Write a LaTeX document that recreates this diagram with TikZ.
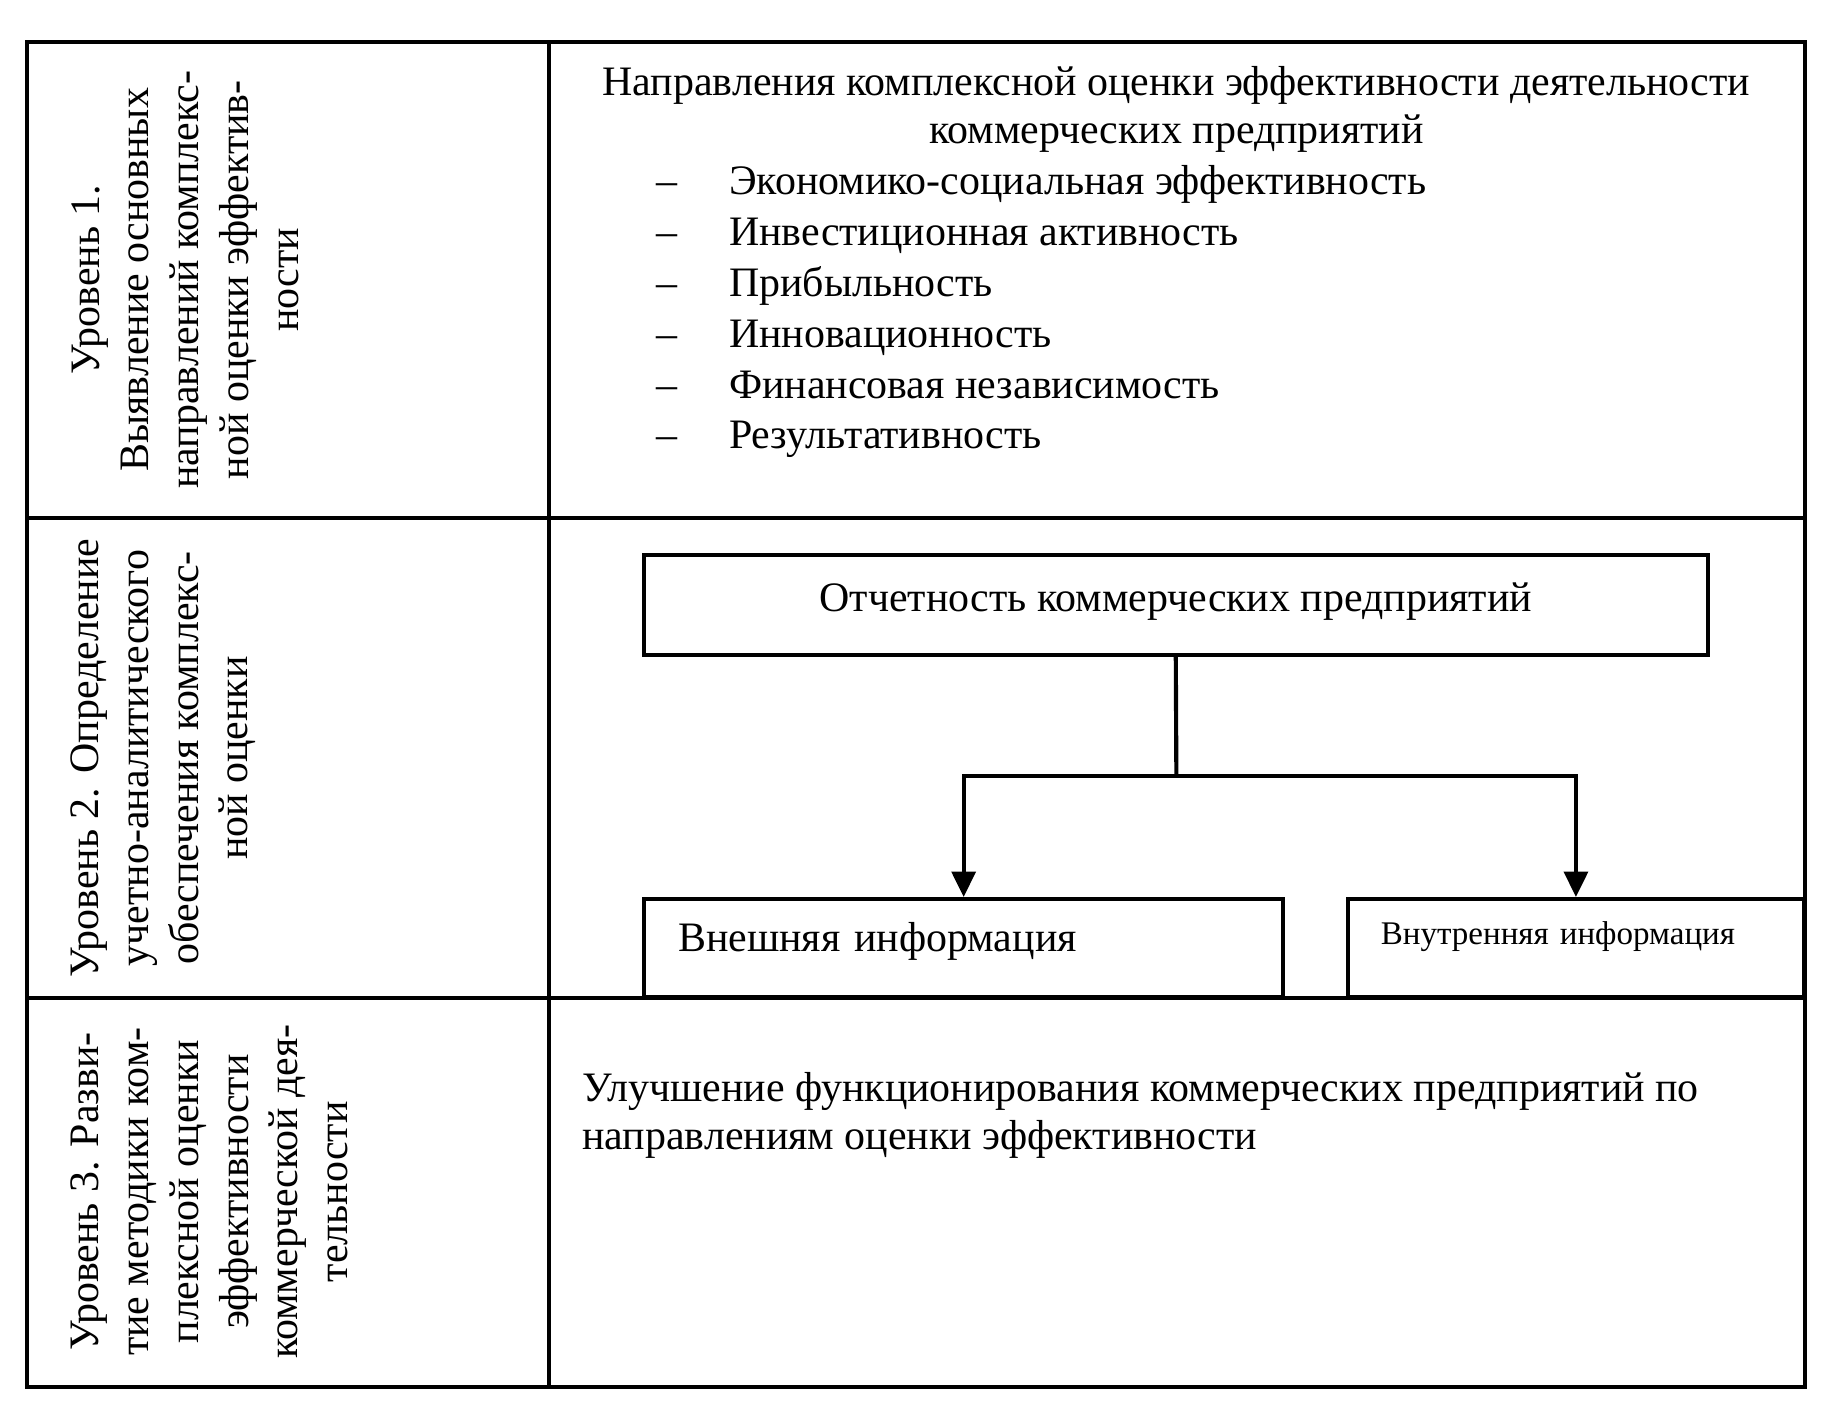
\documentclass[tikz,border=0pt]{standalone}
\usepackage{fontspec}
\setmainfont{Liberation Serif}
\usetikzlibrary{arrows.meta}
\begin{document}
\begin{tikzpicture}[x=0.37pt,y=-0.37pt,
  tline/.style={line width=1.3pt},
  box/.style={draw,line width=1.3pt,inner ysep=0pt},
  arr/.style={line width=1.3pt,-{Triangle[length=8pt,width=7.5pt]}},
  side/.style={rotate=90,align=center,anchor=base,inner sep=0pt,font=\fontsize{13.2pt}{15.7pt}\selectfont},
  body/.style={font=\fontsize{13.2pt}{15.2pt}\selectfont},
]
\useasboundingbox (0,0) rectangle (1564,1213);
% table
\draw[tline] (23,36) rectangle (1536,1180);
\draw[tline] (467,36) -- (467,1180);
\draw[tline] (23,441) -- (1536,441);
\draw[tline] (23,849) -- (1536,849);
% left column (anchor base = baseline of the last line)
\node[side] (l1) at (254,238) {Уровень 1.\\Выявление основных\\направлений комплекс-\\ной оценки эффектив-\\ности};
\node[side] (l2) at (211,645) {Уровень 2. Определение\\учетно-аналитического\\обеспечения комплекс-\\ной оценки};
\node[side] (l3) at (296,1014) {Уровень 3. Разви-\\тие методики ком-\\плексной оценки\\эффективности\\коммерческой дея-\\тельности};
% row 1
\node[body,anchor=base,align=center,inner sep=0pt] (title) at (1001,122) {Направления комплексной оценки эффективности деятельности\\коммерческих предприятий};
\node[anchor=base west,align=left,inner sep=0pt,font=\fontsize{13.2pt}{16pt}\selectfont] (items) at (558,382) {\makebox[22.9pt][l]{–}Экономико-социальная эффективность\\\makebox[22.9pt][l]{–}Инвестиционная активность\\\makebox[22.9pt][l]{–}Прибыльность\\\makebox[22.9pt][l]{–}Инновационность\\\makebox[22.9pt][l]{–}Финансовая независимость\\\makebox[22.9pt][l]{–}Результативность};
% row 2
\node[box,body,minimum width=334.85pt,minimum height=31.45pt,text height=8pt,text depth=4pt] (otch) at (1000.5,514.5) {Отчетность коммерческих предприятий};
\node[box,body,inner xsep=10.73pt,text width=179.8pt,align=left,minimum height=30.71pt,text height=7pt,text depth=4.4pt] (vnesh) at (820,806.5) {Внешняя информация};
\node[box,font=\fontsize{10.4pt}{12.5pt}\selectfont,inner xsep=10.36pt,text width=122.84pt,align=left,minimum height=30.71pt,text height=5pt,text depth=6.85pt] (vnutr) at (1341,806.5) {Внутренняя информация};
\coordinate (split) at (1001,660);
\draw[tline] (otch.south) -- (split);
\draw[arr] (split) -| (vnesh.north);
\draw[arr] (split) -| (vnutr.north);
% row 3
\node[body,anchor=base west,align=left,inner sep=0pt] (r3) at (495,978) {Улучшение функционирования коммерческих предприятий по\\направлениям оценки эффективности};
\end{tikzpicture}
\end{document}
